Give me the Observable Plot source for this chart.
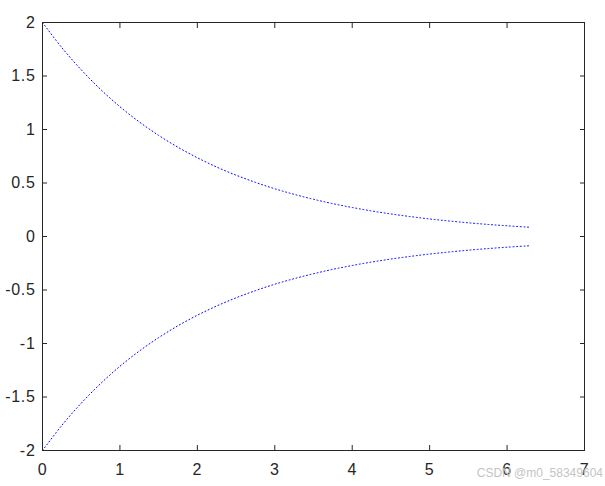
<!DOCTYPE html>
<html>
<head>
<meta charset="utf-8">
<script src="https://cdn.jsdelivr.net/npm/d3@7"></script>
<script src="https://cdn.jsdelivr.net/npm/@observablehq/plot@0.6"></script>
<style>
  html, body { margin: 0; padding: 0; background: #fff; }
  #wrap { position: relative; width: 605px; height: 486px; }
  #wm { position: absolute; right: 2px; top: 466px; font: 12px "Liberation Sans", Arial, sans-serif; color: #c4c4c4; white-space: nowrap; }
  svg text { letter-spacing: 0.7px; }
</style>
</head>
<body>
<div id="wrap"><div id="chart"></div><div id="wm">CSDN @m0_58349604</div></div>
<script>
const t = [0, 0.25, 0.5, 0.75, 1.0, 1.25, 1.5, 1.75, 2.0, 2.25, 2.5, 2.75, 3.0, 3.25, 3.5, 3.75, 4.0, 4.25, 4.5, 4.75, 5.0, 5.25, 5.5, 5.75, 6.0, 6.28];
const upper = [2.000, 1.765, 1.558, 1.375, 1.213, 1.071, 0.945, 0.834, 0.736, 0.649, 0.573, 0.506, 0.446, 0.394, 0.348, 0.307, 0.271, 0.239, 0.211, 0.186, 0.164, 0.145, 0.128, 0.113, 0.100, 0.087];
const lower = [-2.000, -1.765, -1.558, -1.375, -1.213, -1.071, -0.945, -0.834, -0.736, -0.649, -0.573, -0.506, -0.446, -0.394, -0.348, -0.307, -0.271, -0.239, -0.211, -0.186, -0.164, -0.145, -0.128, -0.113, -0.100, -0.087];
const xTicks = [0, 1, 2, 3, 4, 5, 6, 7];
const yTicks = [-2, -1.5, -1, -0.5, 0, 0.5, 1, 1.5, 2];

const upperData = t.map((x, i) => ({x, y: upper[i]}));
const lowerData = t.map((x, i) => ({x, y: lower[i]}));

const axisColor = "#262626";
const lineStyle = {x: "x", y: "y", stroke: "#0000ff", strokeWidth: 1, strokeDasharray: "1 2.6", curve: "catmull-rom"};
const blank = () => "";

const chart = Plot.plot({
  width: 605,
  height: 486,
  marginLeft: 42,
  marginRight: 21,
  marginTop: 22,
  marginBottom: 36,
  style: {fontFamily: "'Liberation Sans', Arial, sans-serif", fontSize: "16px", color: axisColor, background: "#fff"},
  x: {domain: [0, 7]},
  y: {domain: [-2, 2]},
  marks: [
    Plot.line(upperData, lineStyle),
    Plot.line(lowerData, lineStyle),
    Plot.frame({stroke: axisColor, strokeWidth: 1}),
    Plot.axisX(xTicks, {anchor: "bottom", tickSize: 0, tickPadding: 13, label: null, tickFormat: d => String(d), fill: axisColor}),
    Plot.axisY(yTicks, {anchor: "left", tickSize: 0, tickPadding: 7, label: null, tickFormat: d => String(d), fill: axisColor}),
    Plot.axisX(xTicks, {anchor: "bottom", tickSize: -5, label: null, tickFormat: blank, stroke: axisColor}),
    Plot.axisX(xTicks, {anchor: "top", tickSize: -5, label: null, tickFormat: blank, stroke: axisColor}),
    Plot.axisY(yTicks, {anchor: "left", tickSize: -5, label: null, tickFormat: blank, stroke: axisColor}),
    Plot.axisY(yTicks, {anchor: "right", tickSize: -5, label: null, tickFormat: blank, stroke: axisColor})
  ]
});
document.getElementById("chart").appendChild(chart);
</script>
</body>
</html>
